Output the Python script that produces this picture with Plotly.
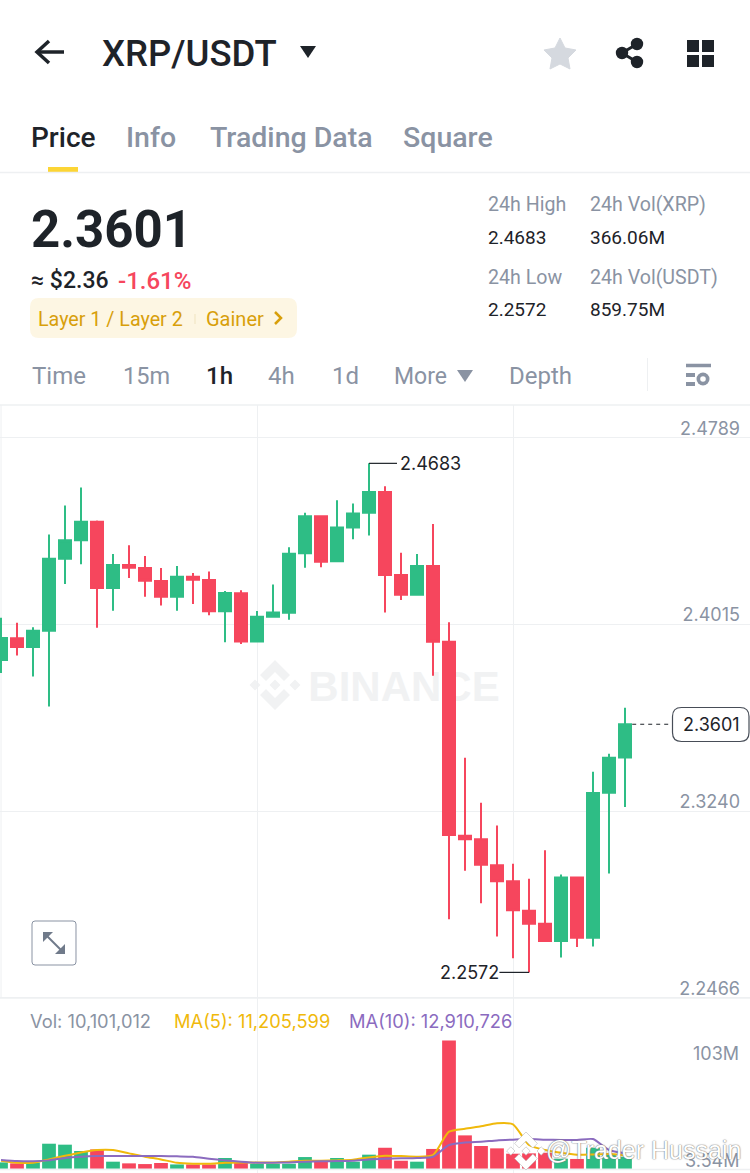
"""
XRP/USDT 1h candles, Binance app screen.
"""
import plotly.graph_objects as go

# ── Data ───────────────────────────────────────────────────────────────────────
opens = [2.3868, 2.3958, 2.3921, 2.3989, 2.4287, 2.4364, 2.4441, 2.4166, 2.4261, 2.4249,
         2.4195, 2.4130, 2.4213, 2.4199, 2.4070, 2.4144, 2.3944, 2.4047, 2.4063, 2.4310,
         2.4464, 2.4277, 2.4417, 2.4478, 2.4564, 2.4220, 2.4138, 2.4257, 2.3943, 2.3139,
         2.3124, 2.3016, 2.2950, 2.2828, 2.2774, 2.2702, 2.2965, 2.2716, 2.3317, 2.3463]
highs = [2.4043, 2.4022, 2.4003, 2.4388, 2.4508, 2.4583, 2.4446, 2.4307, 2.4343, 2.4299,
         2.4249, 2.4257, 2.4228, 2.4235, 2.4154, 2.4157, 2.4071, 2.4181, 2.4335, 2.4478,
         2.4464, 2.4530, 2.4517, 2.4683, 2.4588, 2.4312, 2.4307, 2.4431, 2.4024, 2.3462,
         2.3275, 2.3181, 2.3023, 2.2960, 2.3079, 2.2978, 2.2965, 2.3404, 2.3479, 2.3669]
lows = [2.3814, 2.3886, 2.3799, 2.3675, 2.4183, 2.4265, 2.4001, 2.4072, 2.4208, 2.4130,
        2.4094, 2.4072, 2.4100, 2.4053, 2.3941, 2.3934, 2.3944, 2.4047, 2.4034, 2.4250,
        2.4252, 2.4277, 2.4368, 2.4384, 2.4064, 2.4116, 2.4138, 2.3802, 2.2792, 2.2994,
        2.2859, 2.2721, 2.2631, 2.2572, 2.2702, 2.2634, 2.2677, 2.2679, 2.2982, 2.3258]
closes = [2.3959, 2.3921, 2.3989, 2.4287, 2.4364, 2.4441, 2.4166, 2.4261, 2.4250, 2.4196,
          2.4130, 2.4213, 2.4200, 2.4070, 2.4145, 2.3944, 2.4047, 2.4064, 2.4308, 2.4464,
          2.4275, 2.4417, 2.4475, 2.4564, 2.4220, 2.4138, 2.4257, 2.3943, 2.3142, 2.3124,
          2.3018, 2.2950, 2.2830, 2.2774, 2.2702, 2.2966, 2.2716, 2.3316, 2.3462, 2.3601]
# millions
volumes = [5.3, 4.5, 5.3, 21.0, 20.2, 14.9, 16.2, 5.9, 4.5, 3.9,
           4.8, 3.6, 3.6, 3.6, 9.0, 4.8, 4.2, 4.2, 4.2, 9.8,
           6.7, 9.0, 5.9, 11.8, 17.6, 6.7, 5.9, 16.6, 107.6, 28.0,
           19.1, 17.1, 12.6, 12.9, 13.4, 8.4, 8.2, 17.6, 11.5, 10.1]
ma5 = [6.7, 5.0, 5.0, 7.8, 10.9, 13.7, 15.7, 15.7, 12.9, 10.1,
       7.8, 5.0, 4.2, 4.2, 5.0, 5.3, 5.3, 5.3, 5.9, 6.7,
       6.7, 7.0, 7.6, 9.5, 10.9, 10.6, 10.1, 11.5, 31.1, 33.6,
       35.6, 38.1, 37.3, 19.9, 15.7, 13.4, 11.8, 12.0, 12.3, 11.2]
ma10 = [7.3, 6.4, 6.2, 7.0, 9.0, 10.1, 10.6, 10.6, 10.6, 10.6,
        10.6, 10.4, 10.1, 8.4, 7.0, 5.9, 5.0, 5.0, 5.3, 5.9,
        6.2, 6.4, 6.7, 7.8, 8.4, 8.7, 9.0, 10.1, 19.9, 22.1,
        22.7, 23.8, 24.4, 24.9, 24.4, 24.1, 24.1, 24.9, 15.7, 12.9]
price_ticks = [2.4789, 2.4015, 2.3240, 2.2466]
price_labels = ['2.4789', '2.4015', '2.3240', '2.2466']
x_ticks = [0, 16, 32]
last_price = 2.3601

# ── Colours ────────────────────────────────────────────────────────────────────
GREEN = '#2EBD85'
RED = '#F6465D'
DARK = '#1E2329'
GRAY = '#8A93A3'
LINE = '#EEF0F2'
ORANGE = '#F0B90B'
PURPLE = '#8B6BBF'
W, H = 750, 1173
idx = list(range(len(closes)))


def px(x):
    return x / W


def py(y):
    return 1 - y / H


def path(points, close=True):
    s = 'M ' + ' L '.join(f'{px(x):.5f},{py(y):.5f}' for x, y in points)
    return s + (' Z' if close else '')


def round_rect(x0, y0, x1, y1, r):
    p = lambda x, y: f'{px(x):.5f},{py(y):.5f}'
    return (f'M {p(x0 + r, y0)} L {p(x1 - r, y0)} Q {p(x1, y0)} {p(x1, y0 + r)} '
            f'L {p(x1, y1 - r)} Q {p(x1, y1)} {p(x1 - r, y1)} '
            f'L {p(x0 + r, y1)} Q {p(x0, y1)} {p(x0, y1 - r)} '
            f'L {p(x0, y0 + r)} Q {p(x0, y0)} {p(x0 + r, y0)} Z')


shapes = []
annots = []


def fill(d, color, layer='above', line=None, lw=0):
    shapes.append(dict(type='path', xref='paper', yref='paper', path=d, fillcolor=color,
                       layer=layer, line=dict(width=lw, color=line or color)))


def stroke(points, color, width=2):
    shapes.append(dict(type='path', xref='paper', yref='paper', path=path(points, False),
                       line=dict(color=color, width=width)))


def circle(cx, cy, r, color):
    shapes.append(dict(type='circle', xref='paper', yref='paper', x0=px(cx - r), x1=px(cx + r),
                       y0=py(cy + r), y1=py(cy - r), fillcolor=color, line=dict(width=0)))


def text(x, y, s, size, color=GRAY, family='Roboto', weight=400, anchor='left'):
    annots.append(dict(xref='paper', yref='paper', x=px(x - 1), y=py(y), text=s, showarrow=False,
                       xanchor=anchor, yanchor='middle', borderpad=0,
                       font=dict(size=size, color=color, family=family, weight=weight)))


def logo(cx, cy, s, color, layer='below', line=None, lw=0):
    # binance mark, s = half height
    d = s * 0.22
    for dx in (-0.8 * s, 0, 0.8 * s):
        fill(path([(cx + dx, cy - d), (cx + dx + d, cy), (cx + dx, cy + d), (cx + dx - d, cy)]),
             color, layer, line, lw)
    for side in (-1, 1):
        fill(path([(cx, cy + side * s), (cx + s * 0.6, cy + side * s * 0.4), (cx + s * 0.36, cy + side * s * 0.16),
                   (cx, cy + side * s * 0.52), (cx - s * 0.36, cy + side * s * 0.16), (cx - s * 0.6, cy + side * s * 0.4)]),
             color, layer, line, lw)


# ── Header ─────────────────────────────────────────────────────────────────────
stroke([(64, 52), (37, 52)], DARK, 3.5)
stroke([(49, 41), (37, 52), (49, 63)], DARK, 3.5)
text(102, 53, 'XRP/USDT', 36.5, DARK, 'Roboto', 500)
fill(path([(300, 46), (316, 46), (308, 58)]), DARK)
star = [(560, 38), (565, 48), (576, 50), (568, 58), (570, 69), (560, 64), (550, 69), (552, 58), (544, 50), (555, 48)]
fill(path(star), '#D5D9DF', line='#D5D9DF', lw=1)
stroke([(637, 44), (622, 53), (637, 62)], DARK, 3)
for cx, cy in [(622, 53), (637, 44), (637, 62)]:
    circle(cx, cy, 6.2, DARK)
for x0, y0 in [(687, 40), (702, 40), (687, 55), (702, 55)]:
    fill(path([(x0, y0), (x0 + 12, y0), (x0 + 12, y0 + 12), (x0, y0 + 12)]), DARK)

text(31, 137, 'Price', 28, DARK, 'Roboto', 500)
text(126, 137, 'Info', 28.5, GRAY, 'Roboto', 500)
text(210, 137, 'Trading Data', 28.5, GRAY, 'Roboto', 500)
text(403, 137, 'Square', 28.5, GRAY, 'Roboto', 500)
fill(path([(48, 167), (78, 167), (78, 172), (48, 172)]), '#FCD535')
stroke([(0, 172.5), (W, 172.5)], LINE, 1.5)

text(31, 229, '2.3601', 51, DARK, 'Roboto', 700)
text(31, 281, '≈ $2.36', 23, DARK, 'Roboto', 500)
text(118, 281, '-1.61%', 24, RED, 'Roboto', 500)
fill(round_rect(30, 298, 297, 338, 9), '#FDF6E3')
text(38, 319, 'Layer 1 / Layer 2', 19.7, '#D89F0B', 'Roboto')
stroke([(195, 314), (195, 324)], '#EFE3BF', 1)
text(206, 319, 'Gainer', 20, '#D89F0B', 'Roboto')
stroke([(275, 312), (281, 318), (275, 324)], '#D89F0B', 2.5)

text(488, 205, '24h High', 19.6, GRAY)
text(590, 205, '24h Vol(XRP)', 19.6, GRAY)
text(488, 237, '2.4683', 19, DARK)
text(590, 237, '366.06M', 19, DARK)
text(488, 277, '24h Low', 19.6, GRAY)
text(590, 277, '24h Vol(USDT)', 19.6, GRAY)
text(488, 309, '2.2572', 19, DARK)
text(590, 309, '859.75M', 19, DARK)

text(32, 376, 'Time', 24, GRAY)
text(123, 376, '15m', 23.5, GRAY)
text(206, 376, '1h', 24, DARK, 'Roboto', 500)
text(268, 376, '4h', 24, GRAY)
text(332, 376, '1d', 24, GRAY)
text(394, 376, 'More', 23, GRAY)
fill(path([(457, 370), (473, 370), (465, 382)]), GRAY)
text(509, 376, 'Depth', 24, GRAY)
stroke([(647.5, 358), (647.5, 391)], LINE, 1)
stroke([(686, 365.5), (711, 365.5)], GRAY, 3.5)
fill(path([(686, 373), (695, 373), (695, 377), (686, 377)]), GRAY)
fill(path([(686, 382), (695, 382), (695, 386), (686, 386)]), GRAY)
circle(703, 379, 6.5, GRAY)
circle(703, 379, 2.8, 'white')
stroke([(0, 405), (W, 405)], LINE, 1.5)

# ── Chart furniture ────────────────────────────────────────────────────────────
# plotly drops gridlines this close to the axis end
shapes.append(dict(type='line', xref='x', yref='paper', x0=x_ticks[0], x1=x_ticks[0], y0=0, y1=py(405),
                   layer='below', line=dict(color=LINE, width=1)))
logo(275, 685, 25, '#F1F2F3')
shapes.append(dict(type='rect', xref='paper', yref='paper', x0=px(305), x1=px(503), y0=py(702), y1=py(662),
                   layer='below', line=dict(width=0),
                   label=dict(text='BINANCE', textposition='middle center',
                              font=dict(size=42, color='#F1F2F3', family='Liberation Sans', weight=700))))
fill(round_rect(32, 921, 76, 965, 3), 'rgba(255,255,255,0)', line=GRAY, lw=1)
stroke([(45, 934), (63, 952)], '#707A8A', 2)
fill(path([(43, 932), (53, 932), (43, 942)]), '#707A8A')
fill(path([(65, 954), (55, 954), (65, 944)]), '#707A8A')
stroke([(0, 998), (W, 998)], LINE, 1.5)
stroke([(0, 1169.5), (W, 1169.5)], LINE, 1.5)

# high / low / last markers
hi = highs.index(max(highs))
lo = lows.index(min(lows))
shapes.append(dict(type='line', xref='x', yref='y', x0=hi, x1=hi + 1.75, y0=highs[hi], y1=highs[hi],
                   line=dict(color=DARK, width=1.2)))
annots.append(dict(xref='x', yref='y', x=hi + 1.9, y=highs[hi], text=f'{highs[hi]:.4f}', showarrow=False,
                   xanchor='left', yanchor='middle', borderpad=0, font=dict(size=18, color=DARK, family='Inter')))
shapes.append(dict(type='line', xref='x', yref='y', x0=lo - 1.85, x1=lo, y0=lows[lo], y1=lows[lo],
                   line=dict(color=DARK, width=1.2)))
annots.append(dict(xref='x', yref='y', x=lo - 1.8, y=lows[lo], text=f'{lows[lo]:.4f}', showarrow=False,
                   xanchor='right', yanchor='middle', borderpad=0, font=dict(size=18, color=DARK, family='Inter')))
shapes.append(dict(type='line', xref='x', yref='y', x0=idx[-1] + 0.45, x1=idx[-1] + 2.7,
                   y0=last_price, y1=last_price, line=dict(color=DARK, width=1.2, dash='4px,4px')))
fill(round_rect(672.5, 707.5, 749, 741.5, 9), 'white', line='#474D57', lw=1.2)
annots.append(dict(xref='paper', yref='y', x=px(711), y=last_price, text=f'{last_price:.4f}', showarrow=False,
                   xanchor='center', yanchor='middle', borderpad=0, font=dict(size=18, color=DARK, family='Inter')))

text(30, 1021, 'Vol: 10,101,012', 18.3, GRAY, 'Inter')
text(174, 1021, 'MA(5): 11,205,599', 18.3, ORANGE, 'Inter')
text(349, 1021, 'MA(10): 12,910,726', 18.3, PURPLE, 'Inter')

annots.append(dict(xref='paper', yref='y2', x=px(740), y=103, yshift=-7, text='103M', showarrow=False,
                   xanchor='right', yanchor='middle', borderpad=0, font=dict(size=18, color=GRAY, family='Inter')))
annots.append(dict(xref='paper', yref='y2', x=px(740), y=3.54, yshift=4.5, text='3.54M', showarrow=False,
                   xanchor='right', yanchor='middle', borderpad=0, font=dict(size=18, color=GRAY, family='Inter')))

# repost watermark, sits on top of everything
logo(526, 1151, 19, 'white', 'above', '#B9B9B9', 0.6)
annots.append(dict(xref='paper', yref='paper', x=px(545), y=py(1150), text='@Trader Hussain', showarrow=False,
                   xanchor='left', yanchor='middle', borderpad=0,
                   font=dict(size=25, color='white', family='Liberation Sans',
                             shadow='0 0 1.5px #777, 0 0 1px #777')))

# ── Figure ─────────────────────────────────────────────────────────────────────
fig = go.Figure()
fig.add_trace(go.Candlestick(
    x=idx, open=opens, high=highs, low=lows, close=closes, whiskerwidth=0,
    increasing=dict(line=dict(color=GREEN, width=2), fillcolor=GREEN),
    decreasing=dict(line=dict(color=RED, width=2), fillcolor=RED),
    showlegend=False, xaxis='x', yaxis='y'))
fig.add_trace(go.Bar(
    x=idx, y=volumes, width=0.86,
    marker=dict(color=[GREEN if c >= o else RED for o, c in zip(opens, closes)], line=dict(width=0)),
    showlegend=False, xaxis='x2', yaxis='y2'))
fig.add_trace(go.Scatter(x=idx, y=ma5, mode='lines', line=dict(color=ORANGE, width=2, shape='spline', smoothing=0.6),
                         showlegend=False, xaxis='x2', yaxis='y2'))
fig.add_trace(go.Scatter(x=idx, y=ma10, mode='lines', line=dict(color=PURPLE, width=2, shape='spline', smoothing=0.6),
                         showlegend=False, xaxis='x2', yaxis='y2'))

x_range = [-1 / 16, 749 / 16]
x_common = dict(range=x_range, tickvals=x_ticks, showticklabels=False, showgrid=True, gridcolor=LINE,
                gridwidth=1, zeroline=False, ticks='', fixedrange=True)
fig.update_layout(
    width=W, height=H, autosize=False,
    margin=dict(l=0, r=0, t=0, b=0, pad=0),
    paper_bgcolor='white', plot_bgcolor='white',
    boxgap=0.25, boxgroupgap=0,
    hovermode=False, showlegend=False,
    xaxis=dict(domain=[0, 1], anchor='y', rangeslider=dict(visible=False), **x_common),
    xaxis2=dict(domain=[0, 1], anchor='y2', **x_common),
    # price pane runs a little past the 2.2466 line, else its shifted label gets hidden
    yaxis=dict(domain=[py(1010), py(405)], range=[2.2416, 2.4925], side='right', anchor='x',
               tickvals=price_ticks, ticktext=price_labels, ticklabelposition='inside top',
               ticklabelstandoff=7, ticklabelshift=3, tickfont=dict(size=18, color=GRAY, family='Inter'),
               showgrid=True, gridcolor=LINE, gridwidth=1, zeroline=False, ticks='', fixedrange=True),
    yaxis2=dict(domain=[0, py(998)], range=[-3.6, 143.4], anchor='x2', showticklabels=False,
                showgrid=False, zeroline=False, ticks='', fixedrange=True),
    shapes=shapes, annotations=annots,
)

# page margin off so the figure fills the window
fig.write_html("out.html", config=dict(displayModeBar=False),
               post_script="document.body.style.margin='0';document.documentElement.style.overflow='hidden';")
